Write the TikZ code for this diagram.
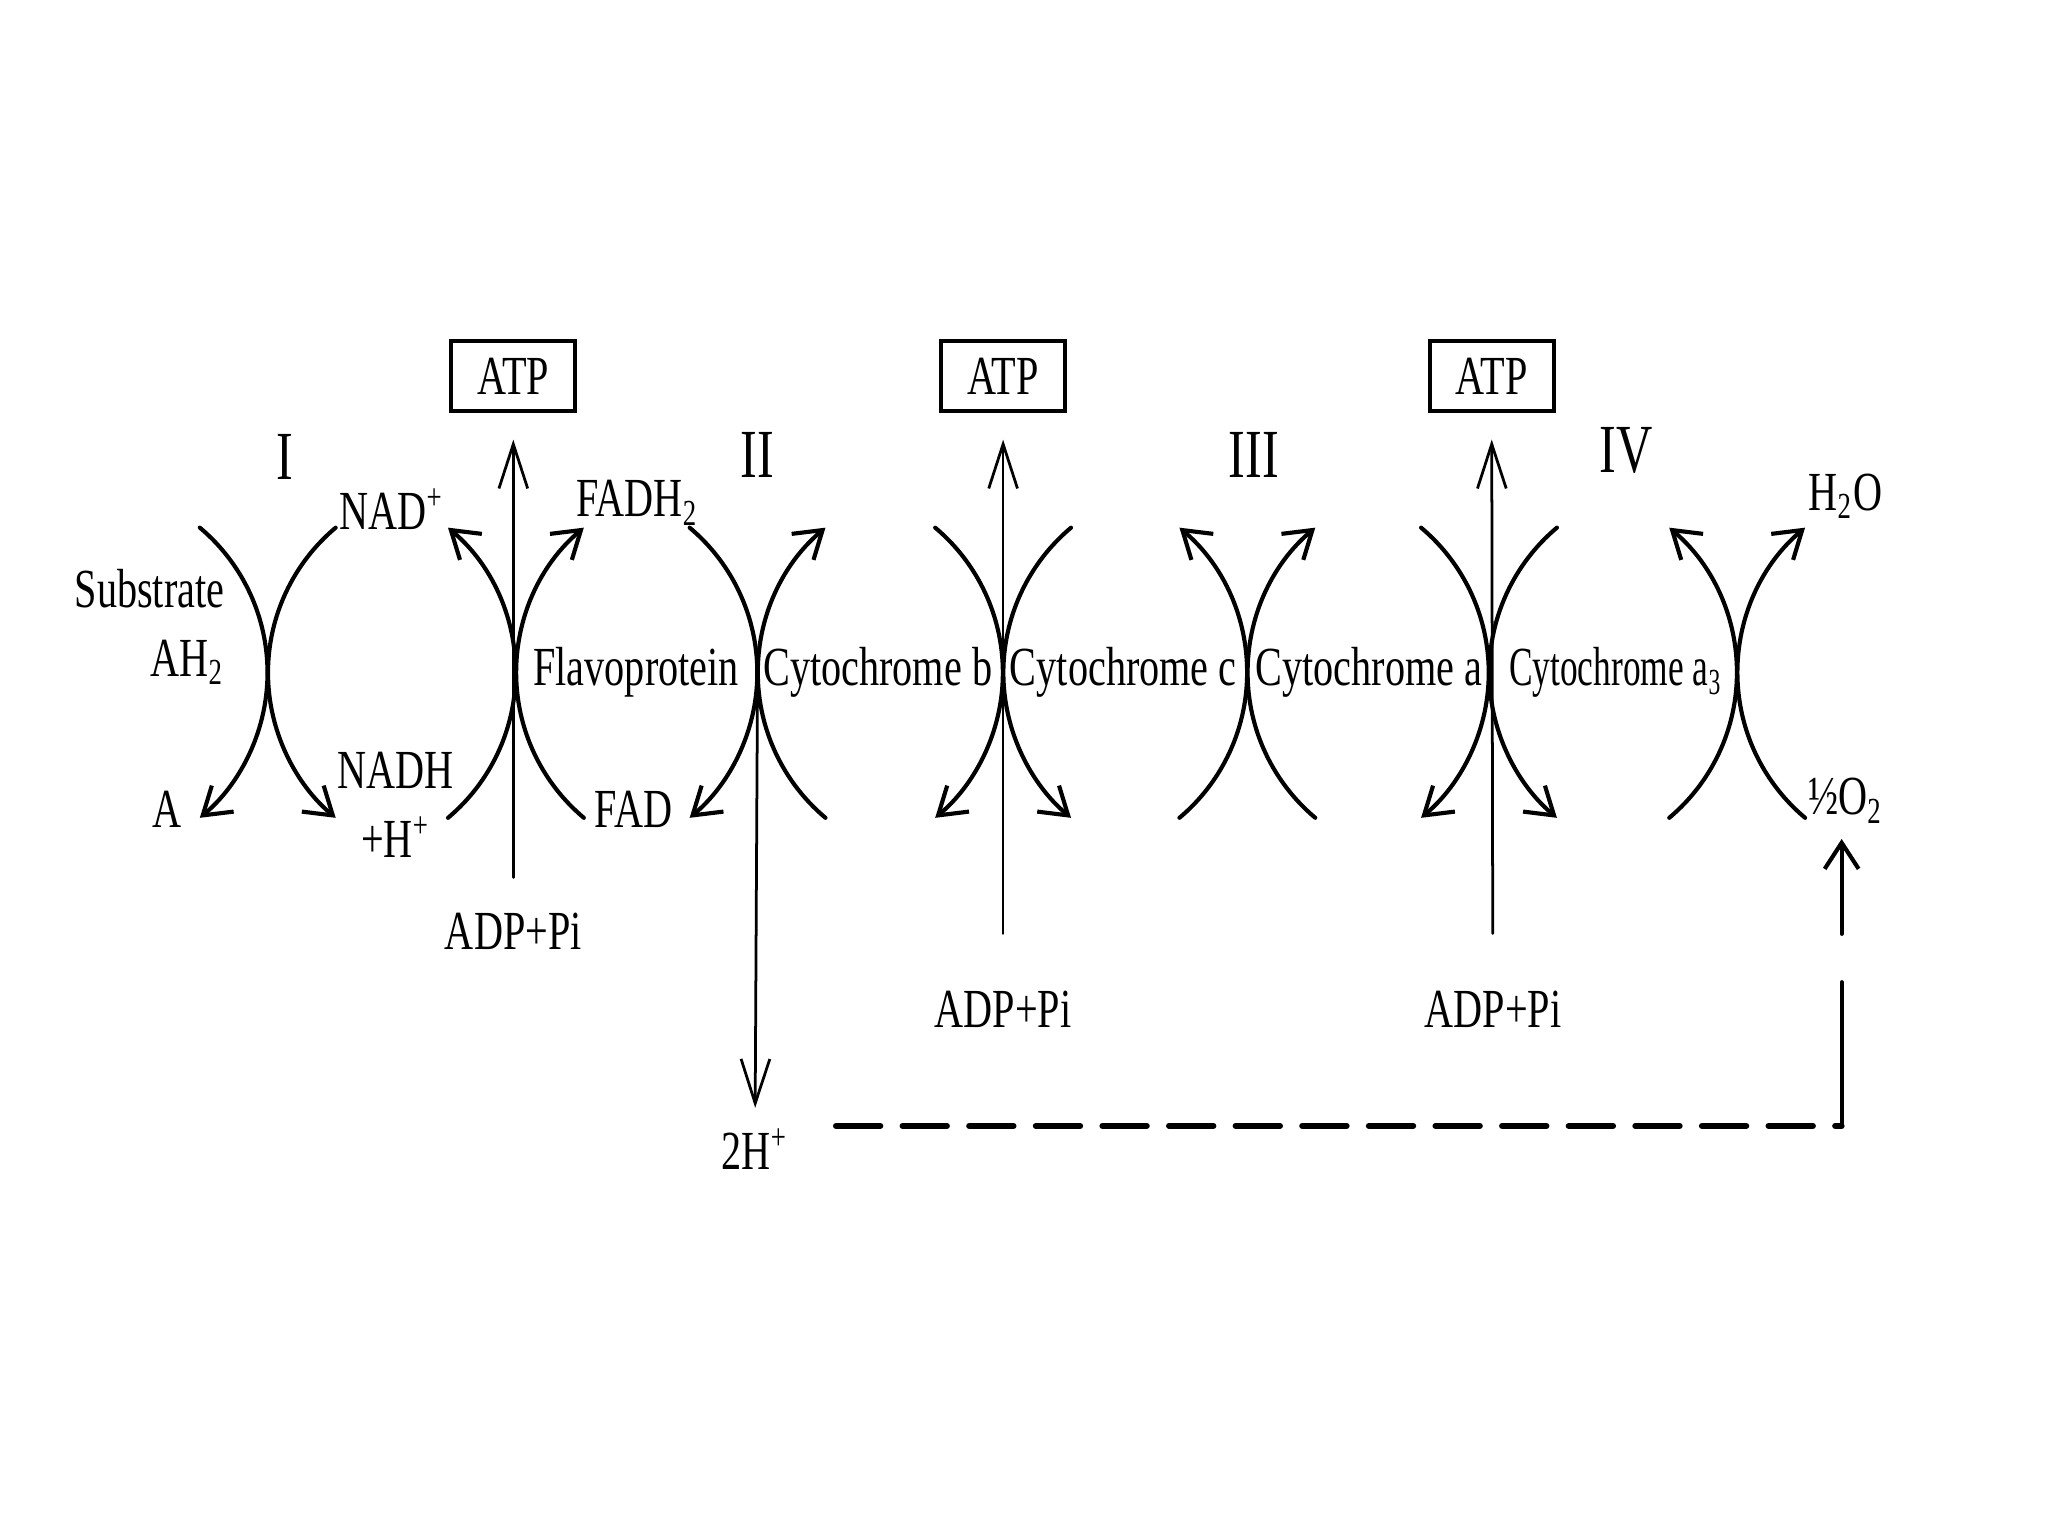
\documentclass[tikz,border=0pt]{standalone}
\usepackage{fontspec}
\setmainfont{Liberation Serif}[FakeStretch=0.73]
\usepackage{graphicx}
\usetikzlibrary{arrows.meta}

\tikzset{
  lbl/.style={font=\fontsize{12}{15}\selectfont, inner sep=1pt},
  roman/.style={font=\fontsize{15}{18}\selectfont, inner sep=1pt},
  atpbox/.style={draw, line width=0.9pt, minimum width=9.5mm, minimum height=5.4mm, inner sep=0pt, font=\fontsize{12}{14}\selectfont},
  carrier/.style={line width=0.9pt},
  pump/.style={line width=0.6pt, -{Straight Barb[length=3.4mm,width=2.2mm]}},
  ret/.style={line width=1.3pt, dash pattern=on 3.4mm off 1.7mm},
}

\begin{document}
\begin{tikzpicture}[>={Straight Barb[length=2mm,width=2.6mm]}, line cap=round]
  \useasboundingbox (0,0) rectangle (15.68,-11.76);

  % pairs of carriers: ")" arc and "(" arc touching at the middle
  \foreach \cx/\la/\ra in {2.05/->/->, 3.95/<-/<-, 5.80/->/<-, 7.68/->/->, 9.55/<-/<-, 11.40/->/->, 13.30/<-/<-}{
    \draw[carrier,\la] ({\cx-0.52},-4.04) arc[start angle=50, end angle=-50, radius=1.45];
    \draw[carrier,\ra] ({\cx+0.52},-4.04) arc[start angle=130, end angle=230, radius=1.45];
  }
  \coordinate (x3) at (5.80,-5.15);

  % complexes
  \node[roman] (c1) at (2.18,-3.50) {I};
  \node[roman] (c2) at (5.80,-3.48) {II};
  \node[roman] (c3) at (9.60,-3.48) {III};
  \node[roman] (c4) at (12.45,-3.45) {IV};

  % substrates and carriers
  \node[lbl, align=right, anchor=east] (sub) at (1.76,-4.80) {Substrate\\AH\textsubscript{2}};
  \node[lbl] (a) at (1.28,-6.20) {A};
  \node[lbl] (nad) at (3.00,-3.90) {NAD\textsuperscript{+}};
  \node[lbl, align=center] (nadh) at (3.03,-6.16) {NADH\\+H\textsuperscript{+}};
  \node[lbl] (fadh) at (4.88,-3.85) {FADH\textsubscript{2}};
  \node[lbl] (fad) at (4.85,-6.20) {FAD};
  \node[lbl] (flavo) at (4.87,-5.15) {Flavoprotein};
  \node[lbl] (cytb) at (6.72,-5.15) {Cytochrome b};
  \node[lbl] (cytc) at (8.60,-5.15) {Cytochrome c};
  \node[lbl] (cyta) at (10.48,-5.15) {Cytochrome a};
  \node[lbl] (cytaa) at (12.37,-5.15) {\scalebox{0.88}[1]{Cytochrome a\textsubscript{3}}};
  \node[lbl] (h2o) at (14.13,-3.80) {H\textsubscript{2}O};
  \node[lbl] (o2) at (14.13,-6.13) {½O\textsubscript{2}};
  \node[lbl] (hh) at (5.78,-8.80) {2H\textsuperscript{+}};

  % phosphorylation sites
  \node[atpbox] (atp1) at (3.93,-2.88) {ATP};
  \node[atpbox] (atp2) at (7.68,-2.88) {ATP};
  \node[atpbox] (atp3) at (11.42,-2.88) {ATP};
  \node[lbl] (adp1) at (3.93,-7.13) {ADP+Pi};
  \node[lbl] (adp2) at (7.68,-7.73) {ADP+Pi};
  \node[lbl] (adp3) at (11.43,-7.73) {ADP+Pi};
  \draw[pump, shorten <=2.3mm, shorten >=2mm] (adp1) -- (atp1);
  \draw[pump, shorten <=4mm, shorten >=2mm] (adp2) -- (atp2);
  \draw[pump, shorten <=4mm, shorten >=2mm] (adp3) -- (atp3);

  % protons back to oxygen
  \draw[pump, shorten >=1.2mm] (x3) -- (hh);
  \coordinate (dstart) at (6.40,-8.62);
  \coordinate (turn) at (14.10,-8.62);
  \coordinate (gap) at (14.10,-7.52);
  \coordinate (feed) at (14.10,-7.15);
  \draw[ret] (dstart) -- (turn);
  \draw[carrier] (turn) -- (gap);
  \draw[carrier, ->, shorten >=0.8mm] (feed) -- (feed |- o2.south);
\end{tikzpicture}
\end{document}
